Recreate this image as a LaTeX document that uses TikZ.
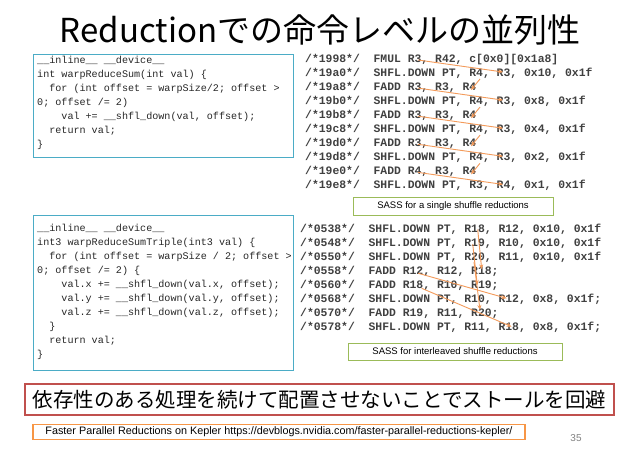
\documentclass[tikz,border=0pt]{standalone}
\usepackage{fontspec}
\newfontfamily\cjk{Noto Sans CJK JP}
\newfontfamily\codef{Liberation Mono}
\newfontfamily\sassf{Liberation Mono}[BoldFont={Liberation Mono Bold}]
\newfontfamily\sansf{Liberation Sans}
\usetikzlibrary{arrows.meta}
\definecolor{boxblue}{HTML}{4BACC6}
\definecolor{arr}{HTML}{F39A5A}
\definecolor{redb}{HTML}{C0504D}
\definecolor{orb}{HTML}{F79646}
\definecolor{grb}{HTML}{9BBB59}
\tikzset{
 codebox/.style={draw=boxblue,line width=1.3pt,anchor=north west,inner sep=0pt},
 code/.style={anchor=north west,align=left,inner sep=0pt,font=\codef\fontsize{10.1}{14}\selectfont,text=black!85},
 sass/.style={anchor=north west,align=left,inner sep=0pt,font=\sassf\bfseries\fontsize{11.4}{14}\selectfont,text=black!75},
 lbl/.style={draw=grb,line width=1pt,inner sep=0pt,font=\sansf\fontsize{9.5}{11}\selectfont},
 dep/.style={draw=arr,line width=0.9pt,-{Stealth[length=5pt,width=4pt]}}
}
\begin{document}
\begin{tikzpicture}[x=1pt,y=-1pt]
\useasboundingbox (0,0) rectangle (638,451);
\node[font=\cjk\fontsize{33}{35}\selectfont] (title) at (320,30) {Reductionでの命令レベルの並列性};
\node[codebox,minimum width=260pt,minimum height=103pt] (box1) at (33,54) {};
\node[code] (c1) at (37,56) {\_\_inline\_\_ \_\_device\_\_\\int warpReduceSum(int val) \{\\\ \ for (int offset = warpSize/2; offset >\\0; offset /= 2)\\\ \ \ \ val += \_\_shfl\_down(val, offset);\\\ \ return val;\\\}};
\node[codebox,minimum width=260pt,minimum height=155pt] (box2) at (33,215) {};
\node[code] (c2) at (37,224) {\_\_inline\_\_ \_\_device\_\_\\int3 warpReduceSumTriple(int3 val) \{\\\ \ for (int offset = warpSize / 2; offset >\\0; offset /= 2) \{\\\ \ \ \ val.x += \_\_shfl\_down(val.x, offset);\\\ \ \ \ val.y += \_\_shfl\_down(val.y, offset);\\\ \ \ \ val.z += \_\_shfl\_down(val.z, offset);\\\ \ \}\\\ \ return val;\\\}};
\fill[white] (296,52) rectangle (620,372);
\node[sass] (s1) at (305,54) {/*1998*/\ \ FMUL R3, R42, c[0x0][0x1a8]\\/*19a0*/\ \ SHFL.DOWN PT, R4, R3, 0x10, 0x1f\\/*19a8*/\ \ FADD R3, R3, R4\\/*19b0*/\ \ SHFL.DOWN PT, R4, R3, 0x8, 0x1f\\/*19b8*/\ \ FADD R3, R3, R4\\/*19c8*/\ \ SHFL.DOWN PT, R4, R3, 0x4, 0x1f\\/*19d0*/\ \ FADD R3, R3, R4\\/*19d8*/\ \ SHFL.DOWN PT, R4, R3, 0x2, 0x1f\\/*19e0*/\ \ FADD R4, R3, R4\\/*19e8*/\ \ SHFL.DOWN PT, R3, R4, 0x1, 0x1f};
\node[lbl,minimum width=200pt,minimum height=18pt] (l1) at (453,206) {SASS for a single shuffle reductions};
\node[sass] (s2) at (300,224) {/*0538*/\ \ SHFL.DOWN PT, R18, R12, 0x10, 0x1f\\/*0548*/\ \ SHFL.DOWN PT, R19, R10, 0x10, 0x1f\\/*0550*/\ \ SHFL.DOWN PT, R20, R11, 0x10, 0x1f\\/*0558*/\ \ FADD R12, R12, R18;\\/*0560*/\ \ FADD R18, R10, R19;\\/*0568*/\ \ SHFL.DOWN PT, R10, R12, 0x8, 0x1f;\\/*0570*/\ \ FADD R19, R11, R20;\\/*0578*/\ \ SHFL.DOWN PT, R11, R18, 0x8, 0x1f;};
\node[lbl,minimum width=214pt,minimum height=17pt] (l2) at (455,351.5) {SASS for interleaved shuffle reductions};
% dependency arrows, block 1
\foreach \k in {0,1,2,3,4}{
  \coordinate (h\k a) at (418,{60+28.1*\k});
  \coordinate (h\k b) at (503,{72+28.1*\k});
  \draw[dep] (h\k a) -- (h\k b);
}
\foreach \k in {0,1,2,3}{
  \coordinate (v\k a) at (480,{79+28.1*\k});
  \coordinate (v\k b) at (471,{90+28.1*\k});
  \draw[dep] (v\k a) -- (v\k b);
}
% block 2
\coordinate (a1) at (477.7,229.3); \coordinate (a2) at (481.7,269.3);
\coordinate (b1) at (472.7,244); \coordinate (b2) at (477.3,285);
\coordinate (e1) at (474,262); \coordinate (e2) at (480,310);
\coordinate (d1) at (418.3,273.3); \coordinate (d2) at (506.7,298.3);
\coordinate (f1) at (421.7,288.3); \coordinate (f2) at (511.7,326.7);
\draw[dep] (a1) -- (a2);
\draw[dep] (b1) -- (b2);
\draw[dep] (e1) -- (e2);
\draw[dep] (d1) -- (d2);
\draw[dep] (f1) -- (f2);
\node[draw=redb,line width=1.2pt,minimum width=589pt,minimum height=31pt,inner sep=0pt,font=\cjk\fontsize{20.5}{22}\selectfont] (msg) at (319.5,399.5) {依存性のある処理を続けて配置させないことでストールを回避};
\node[draw=orb,line width=1.2pt,minimum width=492pt,minimum height=15pt,inner sep=0pt,font=\sansf\fontsize{10.8}{12}\selectfont] (ref) at (279,432) {Faster Parallel Reductions on Kepler https://devblogs.nvidia.com/faster-parallel-reductions-kepler/};
\node[font=\sansf\fontsize{10}{11}\selectfont,text=black!50] (pg) at (576,438) {35};
\end{tikzpicture}
\end{document}
